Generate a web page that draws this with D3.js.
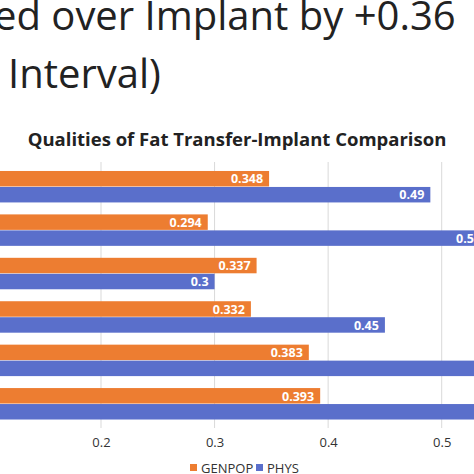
<!DOCTYPE html><html><head><meta charset="utf-8"><script src="https://d3js.org/d3.v7.min.js"></script>
<style>body{margin:0;background:#fff}</style></head><body><script>
const categories=["Q1","Q2","Q3","Q4","Q5","Q6"];
const genpop=[0.348,0.294,0.337,0.332,0.383,0.393];
const phys=[0.49,0.54,0.3,0.45,0.58,0.6];
const physLabels=["0.49","0.54","0.3","0.45","0.58","0.6"];
const ticks=[0.2,0.3,0.4,0.5];
const W=474,H=474;
const svg=d3.select("body").append("svg").attr("width",W).attr("height",H).style("font-family","'Open Sans',sans-serif");
svg.append("text").attr("x",-6).attr("y",30).attr("font-size",40).attr("fill","#222").text("ed over Implant by +0.36");
svg.append("text").attr("x",8).attr("y",88).attr("font-size",40).attr("fill","#222").text("Interval)");
svg.append("text").attr("x",237).attr("y",146).attr("text-anchor","middle").attr("font-size",18.5).attr("font-weight","bold").attr("fill","#222").text("Qualities of Fat Transfer-Implant Comparison");
const x=d3.scaleLinear().domain([0.2,0.5]).range([101,441.7]);
const y=d3.scaleBand().domain(categories).range([165.25,425.75]).paddingInner(0.264).paddingOuter(0.132);
const bw=y.bandwidth()/2;
svg.append("g").selectAll("line").data(ticks.concat([0.6])).join("line").attr("x1",d=>x(d)).attr("x2",d=>x(d)).attr("y1",162).attr("y2",428).attr("stroke","#d9d9d9");
const ax=svg.append("g").attr("transform","translate(0,428)").call(d3.axisBottom(x).tickValues(ticks).tickSize(0).tickPadding(10).tickFormat(d3.format(".1f")));
ax.select(".domain").remove();ax.selectAll("text").attr("font-size",13).attr("fill","#333").style("font-family","'Open Sans',sans-serif");
const x0=x(0);
const series=[{v:genpop,c:"#ED7D31",o:0,l:genpop.map(String)},{v:phys,c:"#5A6FCB",o:1,l:physLabels}];
series.forEach(s=>{
 const g=svg.append("g");
 g.selectAll("rect").data(categories).join("rect").attr("x",x0).attr("y",(d)=>y(d)+s.o*bw).attr("height",bw-0.5).attr("width",(d,i)=>x(s.v[i])-x0).attr("fill",s.c);
 g.selectAll("text").data(categories).join("text").attr("x",(d,i)=>x(s.v[i])-6).attr("y",(d)=>y(d)+s.o*bw+bw/2+4.5).attr("text-anchor","end").attr("fill","#fff").attr("font-weight","bold").attr("font-size",12.5).text((d,i)=>s.l[i]);
});
const lg=svg.append("g").attr("transform","translate(190,473)");
lg.append("rect").attr("x",0).attr("y",-9).attr("width",7).attr("height",7).attr("fill","#ED7D31");
lg.append("text").attr("x",11).attr("y",0).attr("font-size",13).attr("fill","#333").text("GENPOP");
lg.append("rect").attr("x",66).attr("y",-9).attr("width",7).attr("height",7).attr("fill","#5A6FCB");
lg.append("text").attr("x",77).attr("y",0).attr("font-size",13).attr("fill","#333").text("PHYS");
</script></body></html>
